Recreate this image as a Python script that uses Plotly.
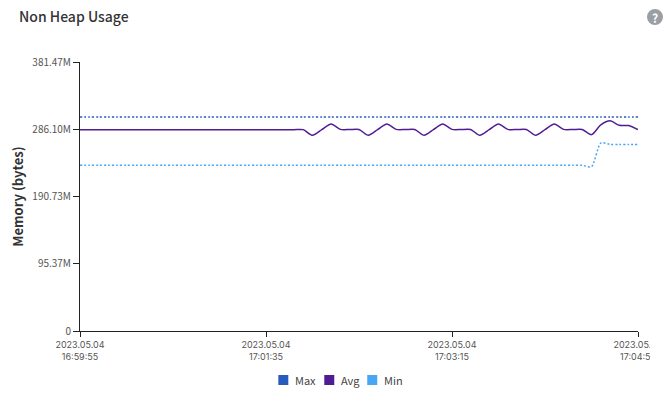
import pandas as pd
import plotly.graph_objects as go

times = pd.date_range("2023-05-04 16:59:55", "2023-05-04 17:04:55", freq="5s")

max_values = [318.2e6] * 61
avg_values = [299.4e6] * 25 + [
    291.0e6, 299.4e6, 307.8e6, 299.8e6, 299.6e6, 299.6e6,
    291.0e6, 299.4e6, 307.8e6, 299.8e6, 299.6e6, 299.6e6,
    291.0e6, 299.4e6, 307.8e6, 299.8e6, 299.6e6, 299.6e6,
    291.0e6, 299.4e6, 307.8e6, 299.8e6, 299.6e6, 299.6e6,
    291.0e6, 299.4e6, 307.8e6, 299.8e6, 299.6e6, 299.6e6,
    292.0e6, 306.5e6, 312.5e6, 305.8e6, 305.5e6, 299.5e6,
]
min_values = [246.4e6] * 55 + [244.4e6, 279.5e6, 277.5e6, 277.5e6, 277.5e6, 277.5e6]

tick_dates = ["2023-05-04 16:59:55", "2023-05-04 17:01:35", "2023-05-04 17:03:15", "2023-05-04 17:04:55"]
tick_labels = ["2023.05.04<br>16:59:55", "2023.05.04<br>17:01:35", "2023.05.04<br>17:03:15", "2023.05.04<br>17:04:55"]
y_ticks = [0, 1e8, 2e8, 3e8, 4e8]
y_labels = ["0", "95.37M", "190.73M", "286.10M", "381.47M"]
legend_names = ["Max", "Avg", "Min"]

FONT = "Noto Sans CJK KR"
W, H = 671, 395
L, R, T, B = 79.5, 33, 62, 64
COL_MAX, COL_AVG, COL_MIN = "#275CBE", "#4F1C94", "#49A6F4"
PW, PH = W - L - R, H - T - B


def px(x):
    return (x - L) / PW


def py(y):
    return ((H - B) - y) / PH


fig = go.Figure()
for name, vals, col, dash in [("Max", max_values, COL_MAX, "2px,2px"),
                              ("Avg", avg_values, COL_AVG, "solid"),
                              ("Min", min_values, COL_MIN, "2px,2px")]:
    fig.add_trace(go.Scatter(x=times, y=vals, mode="lines", name=name, showlegend=False,
                             line=dict(color=col, width=1.5, dash=dash, shape="spline", smoothing=0.7),
                             cliponaxis=False))

axis_common = dict(showgrid=False, zeroline=False, showline=True, linecolor="#222222", linewidth=1,
                   ticks="outside", tickcolor="#222222", tickwidth=1)

shapes = [
    dict(type="rect", xref="paper", yref="paper", layer="above", line_width=0, fillcolor="white",
         x0=px(650), x1=px(W), y0=py(370), y1=py(334)),
    dict(type="circle", xref="paper", yref="paper", layer="above", line_width=0, fillcolor="#9A9EA5",
         x0=px(647), x1=px(663), y0=py(25), y1=py(9)),
]
annotations = [dict(text="<b>?</b>", xref="paper", yref="paper", showarrow=False,
                    x=px(655), y=py(17), xanchor="center", yanchor="middle",
                    font=dict(family=FONT, size=12, color="white"))]
for name, col, sq_x in zip(legend_names, [COL_MAX, COL_AVG, COL_MIN], [278, 324, 367]):
    shapes.append(dict(type="rect", xref="paper", yref="paper", layer="above", line_width=0, fillcolor=col,
                       x0=px(sq_x), x1=px(sq_x + 10), y0=py(385), y1=py(375)))
    annotations.append(dict(text=name, xref="paper", yref="paper", showarrow=False,
                            x=px(sq_x + 16), y=py(380), xanchor="left", yanchor="middle",
                            xshift=-1, font=dict(family=FONT, size=11, color="#444444")))

fig.update_layout(
    width=W, height=H, autosize=False, showlegend=False,
    margin=dict(l=L, r=R, t=T, b=B, pad=0, autoexpand=False),
    paper_bgcolor="white", plot_bgcolor="white",
    font=dict(family=FONT, color="#444444"),
    title=dict(text="Non Heap Usage", font=dict(family=FONT, size=14, color="#333333", weight=500),
               xref="container", yref="container", x=19 / W, xanchor="left",
               y=1 - 17 / H, yanchor="middle"),
    xaxis=dict(type="date", range=[times[0], times[-1]], tickmode="array",
               tickvals=tick_dates, ticktext=tick_labels, ticklen=5, tickangle=0,
               tickfont=dict(family="Inter", size=9, color="#555555"), **axis_common),
    yaxis=dict(range=[0, 4e8], tickmode="array", tickvals=y_ticks, ticktext=y_labels, ticklen=6,
               tickfont=dict(family=FONT, size=10, color="#555555"),
               title=dict(text="<b>Memory (bytes)</b>", font=dict(family=FONT, size=13, color="#333333"), standoff=5),
               **axis_common),
    shapes=shapes,
    annotations=annotations,
)

fig.write_html("out.html", post_script="document.body.style.margin='0';", config=dict(displayModeBar=False))
